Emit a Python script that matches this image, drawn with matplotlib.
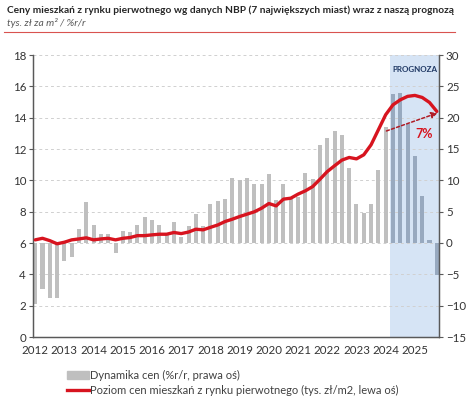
import numpy as np
import matplotlib
matplotlib.use('Agg')
import matplotlib.pyplot as plt
from matplotlib.patches import Patch
from matplotlib.lines import Line2D

plt.rcParams['font.family'] = ['Lato', 'DejaVu Sans']

# quarterly data, 2012Q1 .. 2025Q4
years = list(range(2012, 2026))
# price dynamics, %y/y (right axis)
dynamika = [-9.7, -7.3, -8.8, -8.7, -2.9, -2.2, 2.2, 6.6,
            2.9, 1.5, 1.5, -1.6, 1.9, 1.7, 2.8, 4.1,
            3.6, 2.8, 1.2, 3.3, 1.0, 2.7, 4.7, 2.7,
            6.3, 6.7, 7.0, 10.3, 10.0, 10.4, 9.4, 9.4,
            11.0, 6.9, 9.4, 7.0, 7.4, 11.2, 10.2, 15.6,
            16.8, 17.8, 17.2, 12.0, 6.3, 4.8, 6.3, 11.6,
            18.5, 23.8, 23.9, 19.0, 13.9, 7.5, 0.4, -5.1]
# price level, thous. PLN per m2 (left axis)
poziom = [6.20, 6.30, 6.15, 5.95, 6.05, 6.20, 6.26, 6.33,
          6.20, 6.26, 6.30, 6.20, 6.30, 6.35, 6.47, 6.47,
          6.52, 6.56, 6.56, 6.67, 6.60, 6.70, 6.88, 6.84,
          7.00, 7.15, 7.37, 7.52, 7.69, 7.84, 7.99, 8.22,
          8.52, 8.37, 8.80, 8.86, 9.12, 9.33, 9.60, 10.07,
          10.56, 10.93, 11.29, 11.46, 11.37, 11.63, 12.27, 13.23,
          14.19, 14.82, 15.14, 15.36, 15.42, 15.29, 14.97, 14.40]
first_forecast = 49  # index of first forecast quarter (2024Q2)

x = np.arange(len(dynamika))
gray = '#bfbfbf'
gray_fc = '#98a9bf'
red = '#d7141f'
axis_col = '#595959'

fig = plt.figure(figsize=(4.74, 4.04), dpi=100)
ax = fig.add_axes([33/474, 1-337/404, (439-33)/474, (337-55)/404])
ax2 = ax.twinx()
ax.set_zorder(ax2.get_zorder() + 1)
ax.patch.set_visible(False)

# forecast shading
ax2.axvspan(first_forecast - 0.4, 56, color='#d6e4f5', zorder=0, lw=0)

bar_colors = [gray if i < first_forecast else gray_fc for i in x]
ax2.bar(x, dynamika, width=0.55, color=bar_colors, zorder=1)
ax2.set_ylim(-15, 30)
ax2.set_yticks(range(-15, 31, 5))
ax2.set_axisbelow(True)
ax2.yaxis.grid(True, linestyle=(0, (3, 3)), color='#d0d0d0', lw=0.7)

ax.plot(x, poziom, color=red, lw=2.4, solid_capstyle='round', zorder=3)
ax.set_ylim(0, 18)
ax.set_yticks(range(0, 19, 2))
ax.set_xlim(-0.3, 55.3)
ax.set_xticks(x[::4])
ax.set_xticklabels([str(y) for y in years])

for a in (ax, ax2):
    a.spines['top'].set_visible(False)
    for s in ('left', 'right', 'bottom'):
        a.spines[s].set_color(axis_col)
        a.spines[s].set_linewidth(0.9)
    a.tick_params(axis='y', labelsize=8.3, colors=axis_col, labelcolor='#333333',
                  length=3, width=0.8, pad=2)
ax.tick_params(axis='x', length=0, labelsize=8.3, labelcolor='#333333', pad=6)
ax2.set_xlim(-0.3, 55.3)

# forecast annotations
ax.text(52, 17.1, 'PROGNOZA', color='#1f3864', fontsize=5.8, fontweight='bold',
        ha='center', va='center')
ax.annotate('', xy=(55.1, 14.3), xytext=(48.1, 13.15),
            arrowprops=dict(arrowstyle='-|>', linestyle=(0, (2, 1.5)),
                            color='#b01c26', lw=1.1, mutation_scale=9,
                            shrinkA=0, shrinkB=0))
ax.text(53.3, 12.95, '7%', color=red, fontsize=9, fontweight='bold',
        ha='center', va='center')

# title block
fig.text(7/474, 1-10/404,
         'Ceny mieszkań z rynku pierwotnego wg danych NBP (7 największych miast) wraz z naszą prognozą',
         fontsize=7.25, fontweight='bold', color='#262626', va='center', ha='left')
fig.text(7/474, 1-23/404, 'tys. zł za m² / %r/r', fontsize=7.4, style='italic',
         color='#595959', va='center', ha='left')
fig.add_artist(Line2D([4/474, 455/474], [1-31.5/404, 1-31.5/404],
                      color='#d9534f', lw=0.8))

handles = [Patch(color=gray), Line2D([], [], color=red, lw=2.4)]
labels = ['Dynamika cen (%r/r, prawa oś)',
          'Poziom cen mieszkań z rynku pierwotnego (tys. zł/m2, lewa oś)']
fig.legend(handles, labels, loc='upper left', bbox_to_anchor=(67/474, 1-370/404),
           frameon=False, fontsize=8, handlelength=2.0, handleheight=0.8,
           handletextpad=0.1, labelspacing=0.35, borderpad=0, borderaxespad=0,
           labelcolor='#404040')

fig.savefig('out.png', dpi=100)
